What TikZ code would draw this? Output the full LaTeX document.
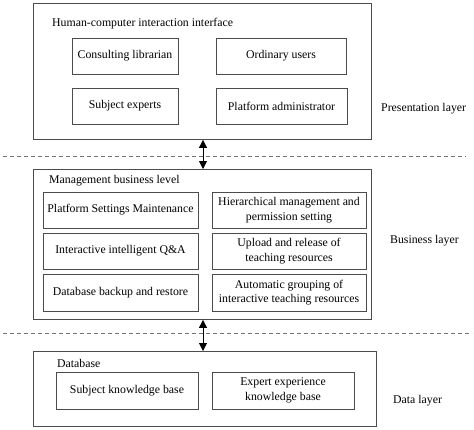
\documentclass[tikz,border=0pt]{standalone}
\usepackage{fontspec}
\setmainfont{Liberation Serif}
\usetikzlibrary{arrows.meta}
\begin{document}
\begin{tikzpicture}[x=1pt,y=-1pt,
  frame/.style={draw=black!70, line width=0.9pt},
  item/.style={draw=black!70, line width=0.9pt, align=center, font=\fontsize{11.8}{14.5}\selectfont, inner sep=0pt},
  ttl/.style={anchor=west, font=\fontsize{11.8}{14}\selectfont, inner sep=0pt},
  lay/.style={anchor=west, font=\fontsize{11.8}{14}\selectfont, inner sep=0pt},
  sep/.style={draw=black!55, dashed, dash pattern=on 4pt off 3pt, line width=0.8pt},
  link/.style={{Triangle[width=8pt,length=8pt]}-{Triangle[width=8pt,length=8pt]}, line width=0.8pt}]
\useasboundingbox (0,0) rectangle (474,429);
% presentation layer
\node[frame, minimum width=338, minimum height=136, anchor=north west] (p) at (33,3) {};
\node[ttl] (pt) at (52,24) {Human-computer interaction interface};
\node[item, minimum width=106, minimum height=36] (p1) at (125,56) {Consulting librarian};
\node[item, minimum width=130, minimum height=36] (p2) at (281,56) {Ordinary users};
\node[item, minimum width=106, minimum height=36] (p3) at (125,106) {Subject experts};
\node[item, minimum width=131, minimum height=36] (p4) at (281.5,106) {Platform administrator};
\node[lay] (pl) at (381,109) {Presentation layer};
% separator 1
\coordinate (d1a) at (3,156);
\coordinate (d1b) at (466,156);
\draw[sep] (d1a) -- (d1b);
% business layer
\node[frame, minimum width=338, minimum height=150, anchor=north west] (b) at (33,169) {};
\node[ttl] (bt) at (49,181) {Management business level};
\node[item, minimum width=155, minimum height=36] (b1) at (120.5,210) {Platform Settings Maintenance};
\node[item, minimum width=154, minimum height=36] (b2) at (289,210) {Hierarchical management and\\permission setting};
\node[item, minimum width=155, minimum height=36] (b3) at (120.5,251) {Interactive intelligent Q\&A};
\node[item, minimum width=154, minimum height=36] (b4) at (289,251) {Upload and release of\\teaching resources};
\node[item, minimum width=155, minimum height=37] (b5) at (120.5,292.5) {Database backup and restore};
\node[item, minimum width=154, minimum height=37] (b6) at (289,292.5) {Automatic grouping of\\interactive teaching resources};
\node[lay] (bl) at (390,241) {Business layer};
% separator 2
\coordinate (d2a) at (3,333);
\coordinate (d2b) at (472,333);
\draw[sep] (d2a) -- (d2b);
% data layer
\node[frame, minimum width=343, minimum height=75, anchor=north west] (d) at (33,351) {};
\node[ttl] (dt) at (57,363) {Database};
\node[item, minimum width=142, minimum height=37] (d1) at (127,390.5) {Subject knowledge base};
\node[item, minimum width=142, minimum height=37] (d2) at (283,390.5) {Expert experience\\knowledge base};
\node[lay] (dl) at (393,401) {Data layer};
% connectors
\draw[link] (p.south -| 203,0) -- (b.north -| 203,0);
\draw[link] (b.south -| 203,0) -- (d.north -| 203,0);
\end{tikzpicture}
\end{document}
